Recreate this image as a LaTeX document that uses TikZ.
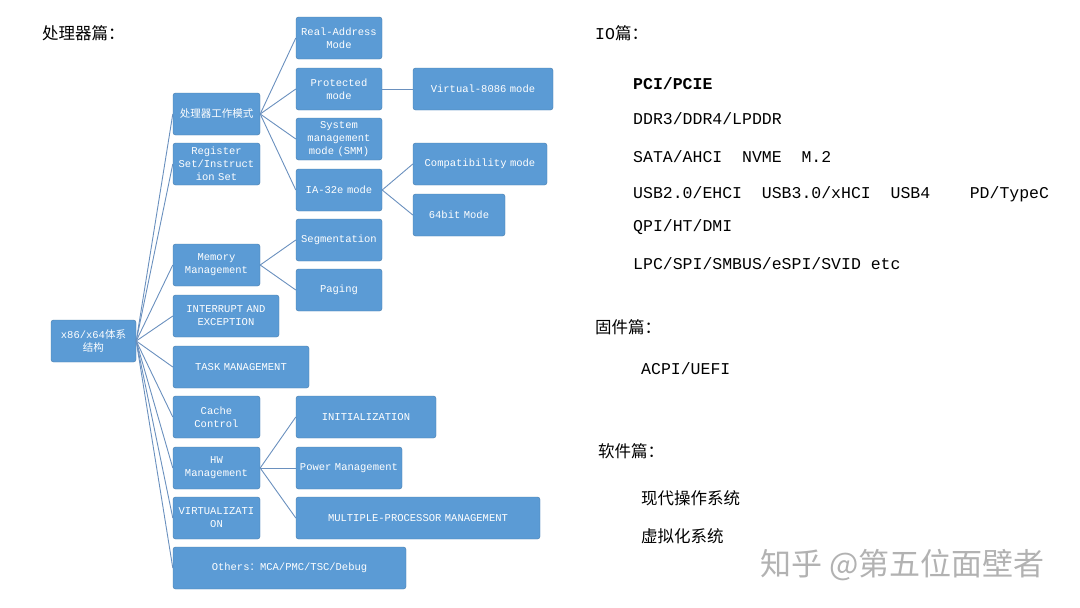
\documentclass[tikz,border=0pt]{standalone}
\usepackage{fontspec}
\setmainfont{Liberation Mono}
\newfontfamily\cjk{Noto Sans CJK SC}
\begin{document}
\begin{tikzpicture}[x=1pt,y=-1pt,
  bx/.style={fill=boxblue,draw=boxblue!80!black,line width=0.4pt,rounded corners=2.5pt,text=white,align=center,inner sep=1pt,font=\fontsize{10.5}{13}\selectfont},
  ln/.style={draw=lineblue,line width=0.9pt},
  rt/.style={anchor=west,font=\fontsize{16.5}{18}\selectfont,inner sep=0pt}]
\definecolor{boxblue}{HTML}{5B9BD5}
\definecolor{lineblue}{HTML}{6A90BE}
\useasboundingbox (0,0) rectangle (1080,608);
\newcommand{\bx}[6]{\node[bx,minimum width={#4-#2},minimum height={#5-#3},text width={#4-#2-2}] (#1) at ({(#2+#4)/2},{(#3+#5)/2}) {#6};}
\bx{root}{51}{320}{136}{362}{x86/x64{\cjk 体系}\\{\cjk 结构}}
\bx{a1}{173}{93}{260}{135}{{\cjk 处理器工作模式}}
\bx{a2}{173}{143}{260}{185}{Register\\Set/Instruct\\ion Set}
\bx{a3}{173}{244}{260}{286}{Memory\\Management}
\bx{a4}{173}{295}{279}{337}{INTERRUPT AND\\EXCEPTION}
\bx{a5}{173}{346}{309}{388}{TASK MANAGEMENT}
\bx{a6}{173}{396}{260}{438}{Cache\\Control}
\bx{a7}{173}{447}{260}{489}{HW\\Management}
\bx{a8}{173}{497}{260}{539}{VIRTUALIZATI\\ON}
\bx{a9}{173}{547}{406}{589}{Others{\cjk ：}MCA/PMC/TSC/Debug}
\bx{b1}{296}{17}{382}{59}{Real-Address\\Mode}
\bx{b2}{296}{68}{382}{110}{Protected\\mode}
\bx{b3}{296}{118}{382}{160}{System\\management\\mode (SMM)}
\bx{b4}{296}{169}{382}{211}{IA-32e mode}
\bx{b5}{296}{219}{382}{261}{Segmentation}
\bx{b6}{296}{269}{382}{311}{Paging}
\bx{b7}{296}{396}{436}{438}{INITIALIZATION}
\bx{b8}{296}{447}{402}{489}{Power Management}
\bx{b9}{296}{497}{540}{539}{MULTIPLE-PROCESSOR MANAGEMENT}
\bx{c1}{413}{68}{553}{110}{Virtual-8086 mode}
\bx{c2}{413}{143}{547}{185}{Compatibility mode}
\bx{c3}{413}{194}{505}{236}{64bit Mode}
\foreach \c in {a1,a2,a3,a4,a5,a6,a7,a8,a9} \draw[ln] (root.east) -- (\c.west);
\foreach \c in {b1,b2,b3,b4} \draw[ln] (a1.east) -- (\c.west);
\foreach \c in {b5,b6} \draw[ln] (a3.east) -- (\c.west);
\foreach \c in {b7,b8,b9} \draw[ln] (a7.east) -- (\c.west);
\draw[ln] (b2.east) -- (c1.west);
\foreach \c in {c2,c3} \draw[ln] (b4.east) -- (\c.west);
\node[rt,font=\cjk\fontsize{16.5}{18}\selectfont] (t0) at (42,33) {处理器篇：};
\node[rt] (t1) at (595,33) {IO{\cjk 篇：}};
\node[rt,font=\bfseries\fontsize{16.5}{18}\selectfont] (t2) at (633,84) {PCI/PCIE};
\node[rt] (t3) at (633,119) {DDR3/DDR4/LPDDR};
\node[rt] (t4) at (633,157) {SATA/AHCI\ \ NVME\ \ M.2};
\node[rt] (t5) at (633,194) {USB2.0/EHCI\ \ USB3.0/xHCI\ \ USB4\ \ \ \ PD/TypeC};
\node[rt] (t6) at (633,227) {QPI/HT/DMI};
\node[rt] (t7) at (633,264) {LPC/SPI/SMBUS/eSPI/SVID etc};
\node[rt,font=\cjk\fontsize{16.5}{18}\selectfont] (t8) at (595,327) {固件篇：};
\node[rt] (t9) at (641,369) {ACPI/UEFI};
\node[rt,font=\cjk\fontsize{16.5}{18}\selectfont] (t10) at (598,451) {软件篇：};
\node[rt,font=\cjk\fontsize{16.5}{18}\selectfont] (t11) at (641,498) {现代操作系统};
\node[rt,font=\cjk\fontsize{16.5}{18}\selectfont] (t12) at (641,536) {虚拟化系统};
\node[rt,font=\cjk\fontsize{31}{33}\selectfont,text=gray!60] (wm) at (760,565) {知乎 @第五位面壁者};
\end{tikzpicture}
\end{document}
